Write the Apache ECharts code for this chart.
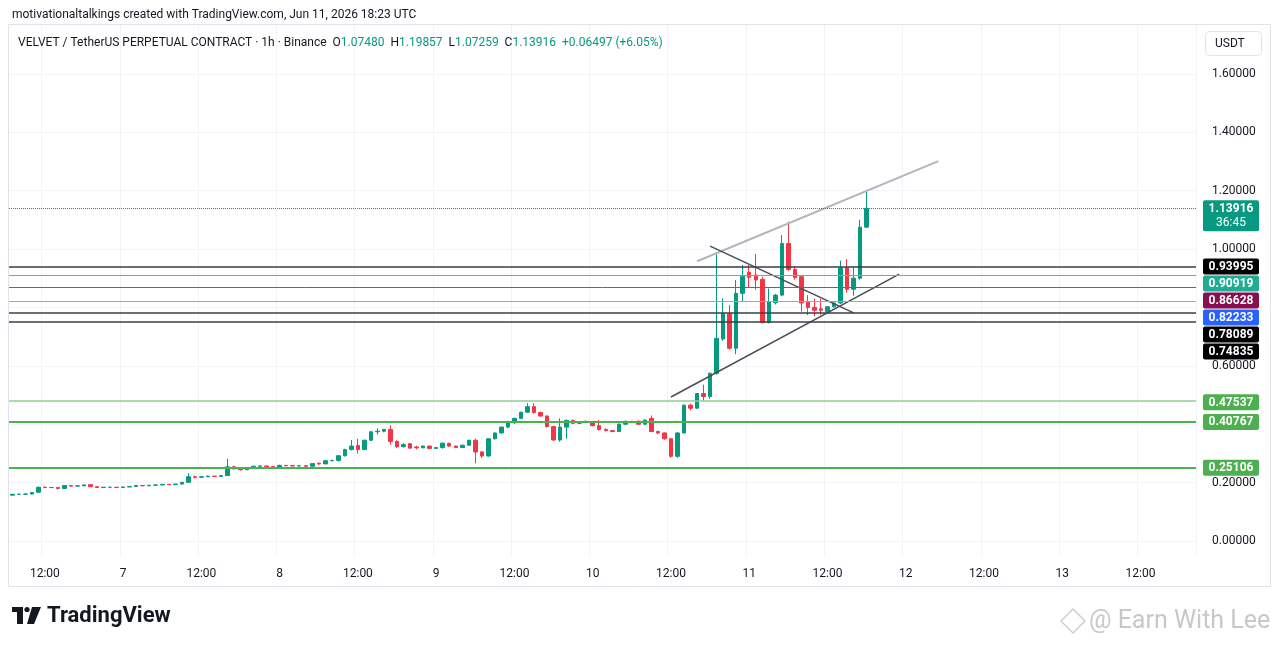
<!DOCTYPE html>
<html>
<head>
<meta charset="utf-8">
<title>VELVET / TetherUS PERPETUAL CONTRACT 1h</title>
<style>
  html, body { margin: 0; padding: 0; background: #fff; }
  #main { width: 1280px; height: 646px; }
</style>
</head>
<body>
<div id="main"></div>
<script src="https://cdn.jsdelivr.net/npm/echarts@6/dist/echarts.min.js"></script>
<script>
// hourly candles starting Jun 6 07:00 UTC, rows are [open, close, low, high]
const candles = [
  [0.157, 0.160, 0.156, 0.161], [0.160, 0.160, 0.159, 0.161], [0.160, 0.161, 0.159, 0.162],
  [0.161, 0.166, 0.160, 0.168], [0.167, 0.184, 0.166, 0.186], [0.184, 0.183, 0.181, 0.187],
  [0.183, 0.183, 0.181, 0.185], [0.183, 0.180, 0.176, 0.185], [0.180, 0.190, 0.179, 0.191],
  [0.190, 0.188, 0.186, 0.191], [0.188, 0.189, 0.187, 0.191], [0.189, 0.192, 0.188, 0.194],
  [0.193, 0.186, 0.185, 0.194], [0.186, 0.183, 0.182, 0.187], [0.183, 0.184, 0.182, 0.185],
  [0.184, 0.184, 0.183, 0.185], [0.184, 0.183, 0.182, 0.185], [0.183, 0.185, 0.182, 0.186],
  [0.185, 0.187, 0.184, 0.188], [0.187, 0.190, 0.186, 0.192], [0.190, 0.189, 0.188, 0.191],
  [0.189, 0.191, 0.188, 0.192], [0.191, 0.192, 0.190, 0.193], [0.192, 0.194, 0.191, 0.195],
  [0.194, 0.193, 0.192, 0.195], [0.193, 0.195, 0.192, 0.196], [0.195, 0.201, 0.194, 0.202],
  [0.201, 0.220, 0.200, 0.232], [0.220, 0.218, 0.214, 0.224], [0.218, 0.220, 0.217, 0.222],
  [0.220, 0.222, 0.219, 0.224], [0.222, 0.221, 0.219, 0.223], [0.221, 0.224, 0.220, 0.226],
  [0.224, 0.254, 0.223, 0.282], [0.254, 0.247, 0.245, 0.258], [0.247, 0.244, 0.241, 0.249],
  [0.244, 0.251, 0.243, 0.253], [0.251, 0.256, 0.250, 0.258], [0.256, 0.257, 0.255, 0.259],
  [0.257, 0.255, 0.253, 0.258], [0.255, 0.253, 0.252, 0.257], [0.253, 0.259, 0.252, 0.261],
  [0.259, 0.258, 0.256, 0.260], [0.258, 0.257, 0.256, 0.260], [0.257, 0.258, 0.256, 0.259],
  [0.258, 0.256, 0.255, 0.259], [0.256, 0.265, 0.255, 0.266], [0.266, 0.264, 0.261, 0.269],
  [0.264, 0.275, 0.263, 0.277], [0.275, 0.276, 0.273, 0.278], [0.276, 0.292, 0.272, 0.294],
  [0.292, 0.313, 0.289, 0.316], [0.313, 0.325, 0.310, 0.346], [0.327, 0.313, 0.300, 0.350],
  [0.313, 0.345, 0.311, 0.347], [0.345, 0.374, 0.343, 0.376], [0.374, 0.376, 0.364, 0.386],
  [0.376, 0.382, 0.372, 0.384], [0.382, 0.341, 0.330, 0.396], [0.341, 0.323, 0.318, 0.345],
  [0.323, 0.330, 0.320, 0.335], [0.333, 0.318, 0.316, 0.335], [0.322, 0.319, 0.314, 0.326],
  [0.319, 0.325, 0.318, 0.327], [0.325, 0.317, 0.315, 0.326], [0.317, 0.320, 0.315, 0.322],
  [0.320, 0.335, 0.316, 0.337], [0.334, 0.325, 0.322, 0.337], [0.325, 0.320, 0.318, 0.327],
  [0.320, 0.328, 0.319, 0.330], [0.328, 0.345, 0.326, 0.347], [0.345, 0.305, 0.266, 0.350],
  [0.305, 0.291, 0.285, 0.308], [0.291, 0.350, 0.289, 0.352], [0.350, 0.370, 0.348, 0.372],
  [0.370, 0.390, 0.368, 0.392], [0.390, 0.408, 0.386, 0.412], [0.405, 0.420, 0.400, 0.422],
  [0.420, 0.441, 0.418, 0.443], [0.441, 0.460, 0.439, 0.472], [0.460, 0.440, 0.436, 0.472],
  [0.440, 0.428, 0.425, 0.443], [0.428, 0.392, 0.388, 0.430], [0.392, 0.346, 0.343, 0.395],
  [0.346, 0.390, 0.340, 0.420], [0.390, 0.413, 0.350, 0.416], [0.413, 0.403, 0.400, 0.416],
  [0.403, 0.409, 0.401, 0.411], [0.409, 0.410, 0.405, 0.412], [0.409, 0.395, 0.393, 0.411],
  [0.395, 0.382, 0.378, 0.414], [0.382, 0.378, 0.375, 0.386], [0.378, 0.375, 0.372, 0.380],
  [0.375, 0.400, 0.373, 0.402], [0.400, 0.410, 0.398, 0.412], [0.410, 0.408, 0.405, 0.411],
  [0.410, 0.400, 0.398, 0.413], [0.400, 0.414, 0.398, 0.416], [0.420, 0.375, 0.372, 0.430],
  [0.375, 0.370, 0.366, 0.378], [0.370, 0.350, 0.347, 0.372], [0.350, 0.290, 0.285, 0.352],
  [0.290, 0.370, 0.285, 0.372], [0.370, 0.465, 0.368, 0.468], [0.465, 0.455, 0.447, 0.470],
  [0.455, 0.505, 0.453, 0.507], [0.505, 0.495, 0.480, 0.535], [0.495, 0.574, 0.487, 0.578],
  [0.574, 0.694, 0.570, 0.985], [0.692, 0.778, 0.685, 0.831], [0.778, 0.660, 0.655, 0.808],
  [0.660, 0.848, 0.640, 0.894], [0.848, 0.907, 0.820, 0.945], [0.920, 0.903, 0.870, 0.945],
  [0.911, 0.894, 0.860, 0.983], [0.896, 0.748, 0.745, 0.905], [0.748, 0.820, 0.745, 0.865],
  [0.816, 0.842, 0.810, 0.846], [0.842, 1.019, 0.838, 1.048], [1.019, 0.930, 0.925, 1.094],
  [0.930, 0.902, 0.895, 0.942], [0.905, 0.815, 0.785, 0.910], [0.820, 0.800, 0.774, 0.842],
  [0.800, 0.790, 0.770, 0.830], [0.795, 0.790, 0.775, 0.830], [0.785, 0.802, 0.780, 0.805],
  [0.802, 0.815, 0.800, 0.818], [0.815, 0.935, 0.812, 0.960], [0.935, 0.862, 0.850, 0.965],
  [0.862, 0.900, 0.840, 0.940], [0.900, 1.0748, 0.895, 1.100], [1.0748, 1.13916, 1.07259, 1.19857]
];

const lastPrice = 1.13916;
const countdown = '36:45';

// horizontal levels drawn on the chart
const levelPrices = [0.93995, 0.90919, 0.86628, 0.82233, 0.78089, 0.74835, 0.47537, 0.40767, 0.25106];
const levelLineColors = ['#3b3e47', '#5fb3a8', '#a44a70', '#93a8cc', '#3b3e47', '#3b3e47', '#8fcf92', '#4caf50', '#4caf50'];
const levelTagColors = ['#000000', '#22ab94', '#880e4f', '#2962ff', '#000000', '#000000', '#4caf50', '#4caf50', '#4caf50'];
const levelLineWidths = [1.5, 1, 1, 1, 1.5, 1.5, 1.5, 2, 2];

// trend lines, [[candle index, price], [candle index, price]]
const upperChannel = [[105, 0.958], [142, 1.301]];
const lowerChannel = [[101, 0.493], [136, 0.914]];
const fallingLine = [[107, 1.010], [129, 0.781]];

const yGridValues = [0, 0.2, 0.4, 0.6, 0.8, 1.0, 1.2, 1.4, 1.6];
const yLabelValues = [0, 0.2, 0.6, 1.0, 1.2, 1.4, 1.6];

// one category per hour, Jun 6 07:00 .. Jun 13 20:00
const firstHour = Date.UTC(2026, 5, 6, 7);
const categories = [];
for (let k = 0; k < 182; k++) {
  const d = new Date(firstHour + k * 3600e3);
  categories.push(d.getUTCDate() + ' ' + String(d.getUTCHours()).padStart(2, '0') + ':00');
}

const UP = '#089981';
const DOWN = '#f23645';
const TEXT = '#131722';
const FONT = 'Roboto, "Noto Sans", sans-serif';

const isTick = (idx, v) => / (00|12):00$/.test(v);
const tickText = v => v.endsWith(' 12:00') ? '12:00' : v.split(' ')[0];

const chart = echarts.init(document.getElementById('main'));

chart.setOption({
  animation: false,
  backgroundColor: '#ffffff',
  textStyle: { fontFamily: FONT },
  title: [{
    text: 'motivationaltalkings created with TradingView.com, Jun 11, 2026 18:23 UTC',
    left: 12, top: 9, padding: 0,
    textStyle: { fontSize: 12, fontWeight: 'normal', color: TEXT, fontFamily: FONT }
  }, {
    text: '{t|VELVET / TetherUS PERPETUAL CONTRACT · 1h · Binance}  {t|O}{v|1.07480}  {t|H}{v|1.19857}  {t|L}{v|1.07259}  {t|C}{v|1.13916}  {v|+0.06497 (+6.05%)}',
    left: 18, top: 37, padding: 0,
    textStyle: {
      fontSize: 12, fontWeight: 'normal', fontFamily: FONT,
      rich: {
        t: { color: TEXT, fontSize: 12, fontFamily: FONT },
        v: { color: UP, fontSize: 12, fontFamily: FONT }
      }
    }
  }],
  grid: { left: 9, right: 84, top: 24, bottom: 90 },
  xAxis: {
    type: 'category',
    data: categories,
    boundaryGap: true,
    axisLine: { show: false },
    axisTick: { show: false },
    axisLabel: { interval: isTick, formatter: tickText, color: TEXT, fontSize: 12, margin: 12 },
    splitLine: { show: true, interval: isTick, lineStyle: { color: '#f3f4f7' } }
  },
  yAxis: {
    type: 'value',
    position: 'right',
    min: -0.0514,
    max: 1.7705,
    axisLine: { show: false },
    axisTick: { show: false, customValues: yGridValues },
    axisLabel: {
      customValues: yLabelValues,
      formatter: v => v.toFixed(5),
      color: TEXT, fontSize: 12, margin: 16,
      padding: [4, 0, 0, 0]
    },
    splitLine: { show: true, lineStyle: { color: '#f3f4f7' } }
  },
  series: [{
    type: 'candlestick',
    data: candles,
    barWidth: 4,
    itemStyle: { color: UP, color0: DOWN, borderColor: UP, borderColor0: DOWN, borderWidth: 1 },
    markLine: {
      silent: true,
      symbol: ['none', 'none'],
      label: { show: false },
      data: [{ yAxis: lastPrice, lineStyle: { color: UP, type: 'dotted', width: 1 } }].concat(
        levelPrices.map((p, k) => ({
          yAxis: p,
          lineStyle: { color: levelLineColors[k], width: levelLineWidths[k], type: 'solid' }
        }))
      )
    }
  }, {
    type: 'line', data: upperChannel, symbol: 'none', silent: true,
    lineStyle: { color: '#b2b5be', width: 2 }
  }, {
    type: 'line', data: lowerChannel, symbol: 'none', silent: true,
    lineStyle: { color: '#4a4d57', width: 1.5 }
  }, {
    type: 'line', data: fallingLine, symbol: 'none', silent: true,
    lineStyle: { color: '#4a4d57', width: 1.5 }
  }]
});

// price tags on the right scale, pushed down when they would overlap
const tagX = 1203, tagW = 56, tagH = 16, tagStep = 17;
const tags = levelPrices.map((p, k) => ({ p, color: levelTagColors[k], y: chart.convertToPixel({ yAxisIndex: 0 }, p) }))
  .sort((a, b) => a.y - b.y);
let prevY = -1e9;
tags.forEach(t => { t.y = Math.max(t.y, prevY + tagStep); prevY = t.y; });

const graphics = [];
tags.forEach(t => {
  graphics.push({
    type: 'rect', shape: { x: tagX, y: t.y - tagH / 2, width: tagW, height: tagH, r: 2 },
    style: { fill: t.color }, z: 10
  });
  graphics.push({
    type: 'text', x: tagX + tagW / 2, y: t.y + 0.5, z: 11,
    style: { text: t.p.toFixed(5), fill: '#ffffff', font: 'bold 12px ' + FONT, align: 'center', verticalAlign: 'middle' }
  });
});

const lastY = chart.convertToPixel({ yAxisIndex: 0 }, lastPrice);
graphics.push({
  type: 'rect', shape: { x: tagX, y: lastY - 8, width: tagW, height: 31, r: 2 },
  style: { fill: UP }, z: 10
});
graphics.push({
  type: 'text', x: tagX + tagW / 2, y: lastY + 0.5, z: 11,
  style: { text: lastPrice.toFixed(5), fill: '#ffffff', font: 'bold 12px ' + FONT, align: 'center', verticalAlign: 'middle' }
});
graphics.push({
  type: 'text', x: tagX + tagW / 2, y: lastY + 15, z: 11,
  style: { text: countdown, fill: '#ffffff', font: '12px ' + FONT, align: 'center', verticalAlign: 'middle' }
});

// chart frame, currency box, logo and watermark
graphics.push({
  type: 'rect', shape: { x: 8.5, y: 24.5, width: 1262, height: 562 },
  style: { fill: 'none', stroke: '#e0e3eb', lineWidth: 1 }, z: 0, silent: true
});
graphics.push({
  type: 'rect', shape: { x: 1205.5, y: 31.5, width: 56, height: 24, r: 4 },
  style: { fill: '#ffffff', stroke: '#e0e3eb', lineWidth: 1 }, z: 10
});
graphics.push({
  type: 'text', x: 1215, y: 44, z: 11,
  style: { text: 'USDT', fill: TEXT, font: '12px ' + FONT, align: 'left', verticalAlign: 'middle' }
});
graphics.push({
  type: 'polygon', z: 10,
  shape: { points: [[12, 607], [23, 607], [23, 624], [17, 624], [17, 612], [12, 612]] },
  style: { fill: TEXT }
});
graphics.push({ type: 'circle', z: 10, shape: { cx: 27, cy: 609.5, r: 2.6 }, style: { fill: TEXT } });
graphics.push({
  type: 'polygon', z: 10,
  shape: { points: [[32, 607], [41, 607], [34, 624], [27, 624]] },
  style: { fill: TEXT }
});
graphics.push({
  type: 'text', x: 47, y: 616, z: 10,
  style: { text: 'TradingView', fill: TEXT, font: 'bold 22px ' + FONT, align: 'left', verticalAlign: 'middle' }
});
graphics.push({
  type: 'polygon', z: 10,
  shape: { points: [[1073, 609], [1085, 621], [1073, 633], [1061, 621]] },
  style: { fill: 'none', stroke: '#cfcfcf', lineWidth: 1.5 }
});
graphics.push({
  type: 'text', x: 1089, y: 622, z: 10,
  style: { text: '@ Earn With Lee', fill: '#c8c8c8', font: '25px ' + FONT, align: 'left', verticalAlign: 'middle' }
});

chart.setOption({ graphic: graphics });
</script>
</body>
</html>
